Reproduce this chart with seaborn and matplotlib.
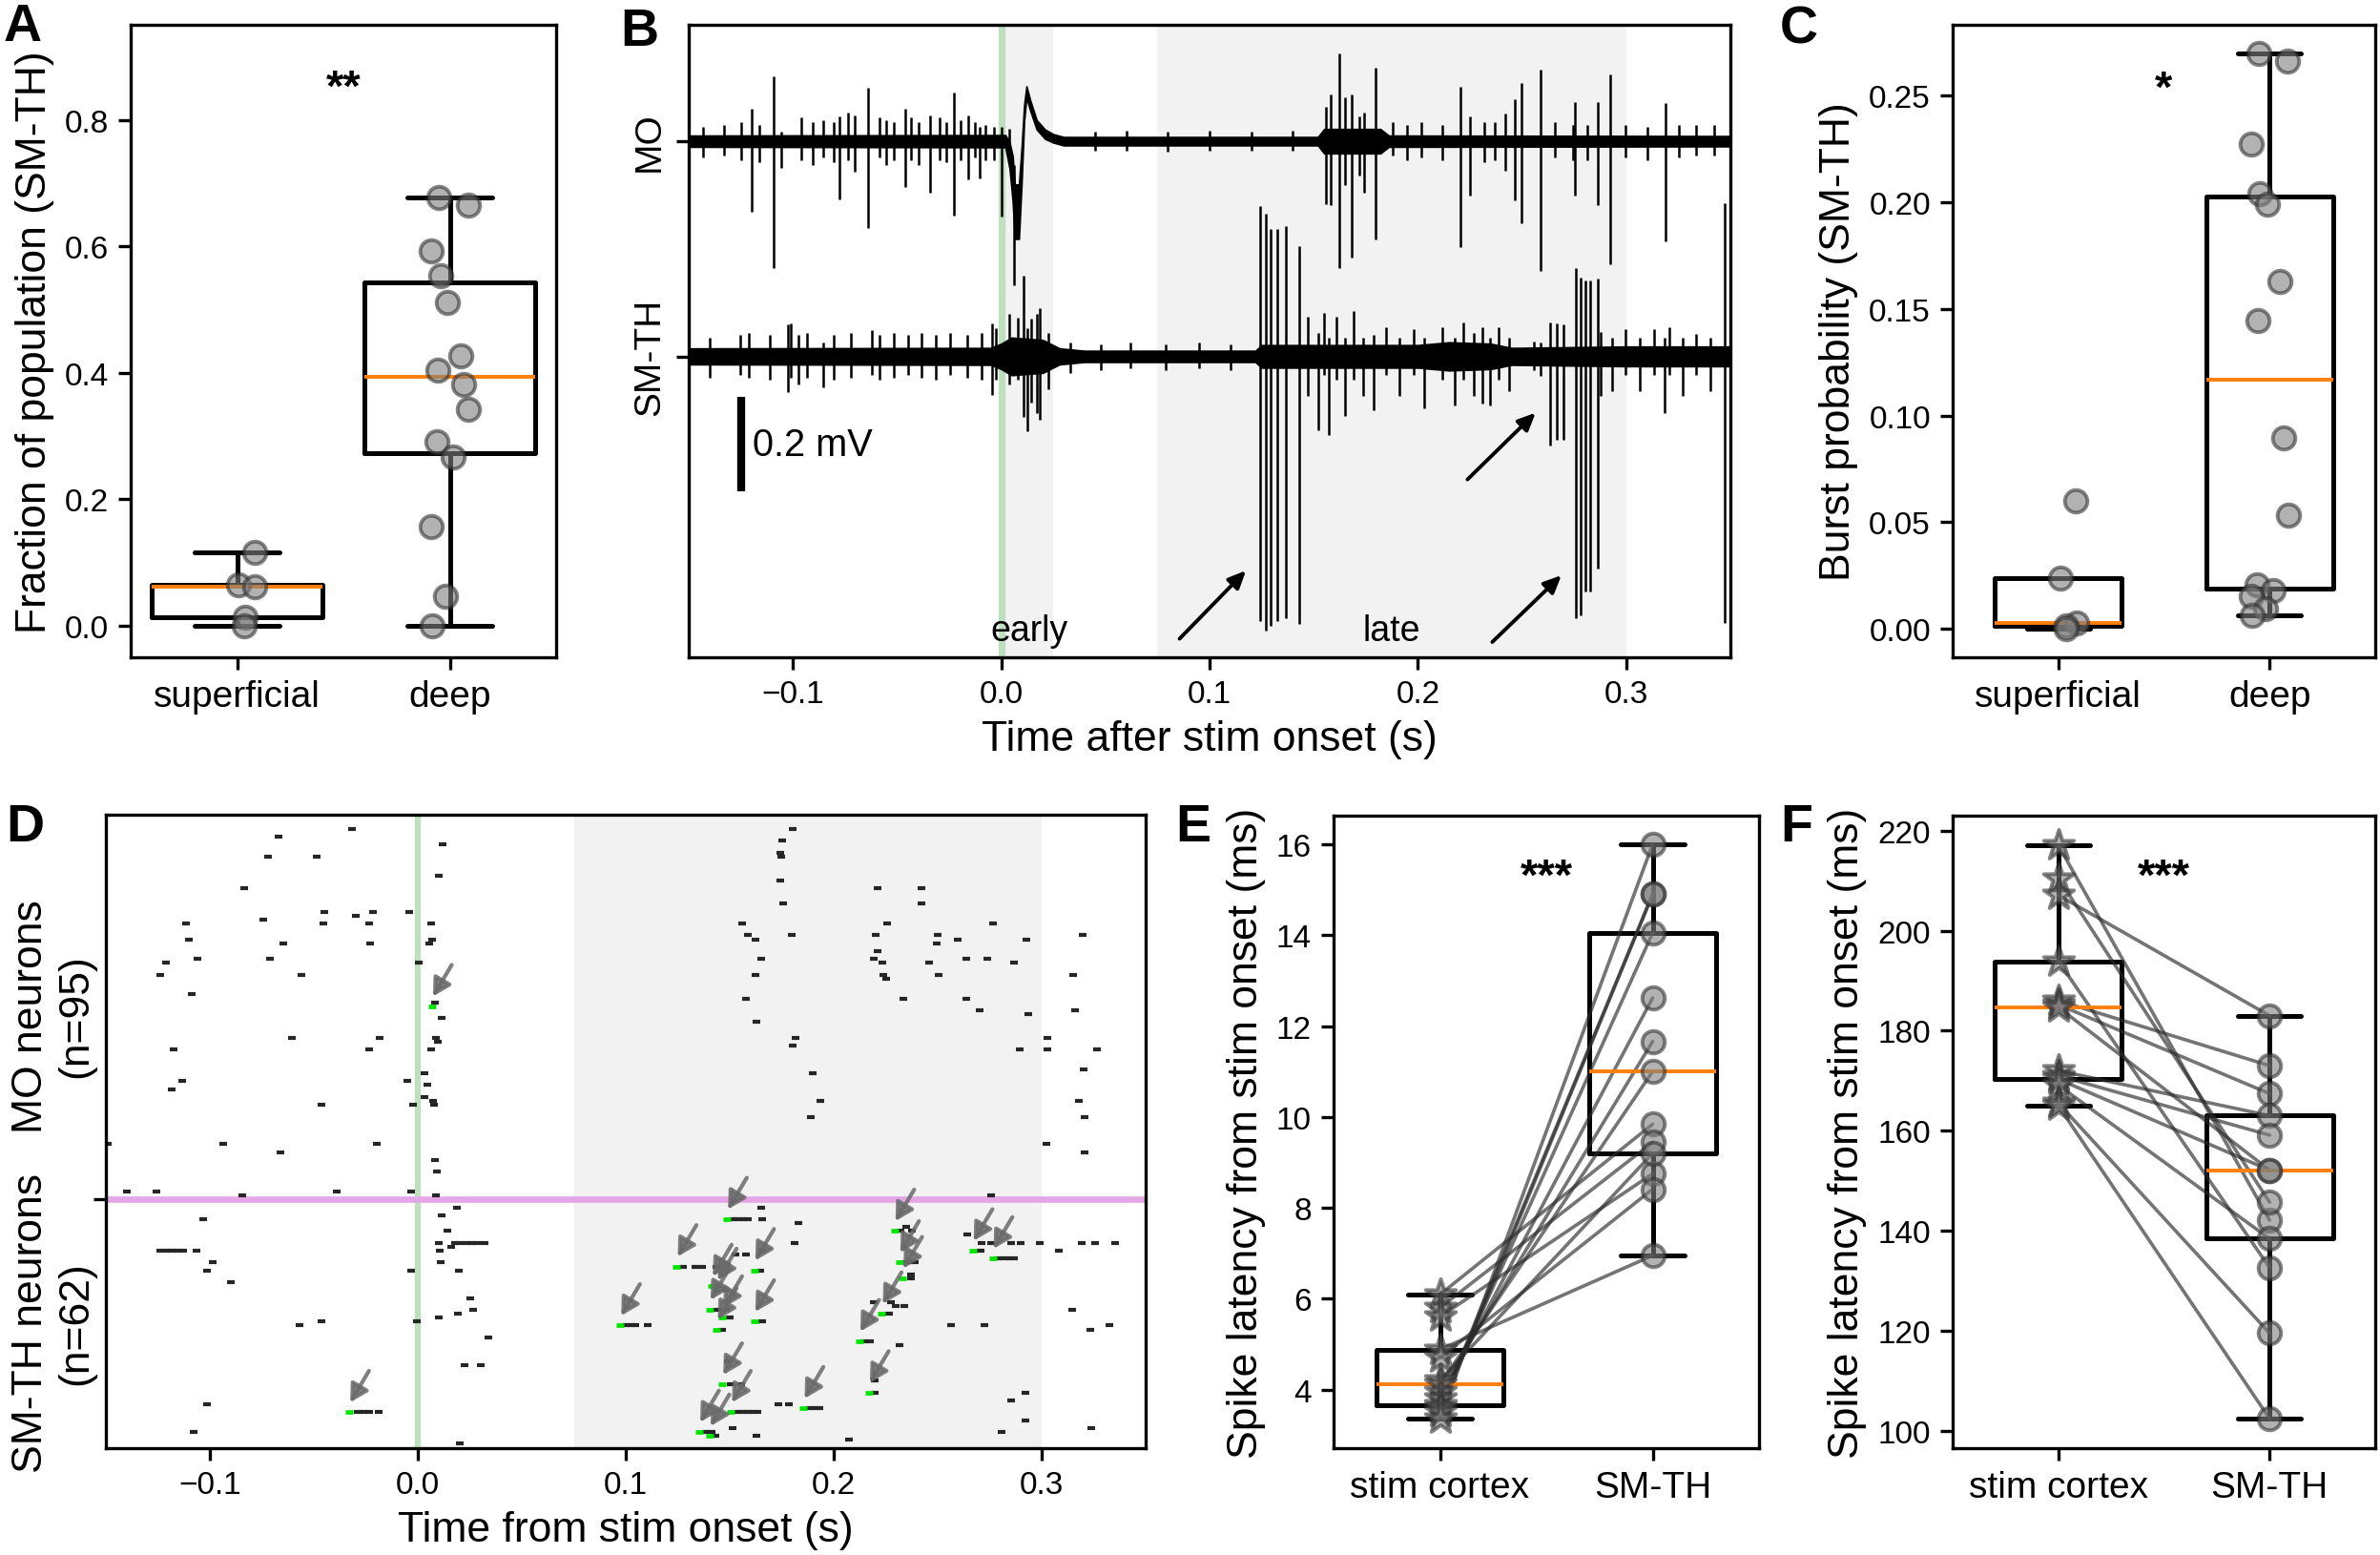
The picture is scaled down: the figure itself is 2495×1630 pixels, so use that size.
import numpy as np
import pandas as pd
import matplotlib
matplotlib.use("Agg")
import matplotlib.pyplot as plt
import seaborn as sns

# ---------------- data ----------------
# A: fraction of population that is SM-TH projecting
a_cats = ["superficial", "deep"]
a_sup = [0.116, 0.064, 0.062, 0.013, 0.0]
a_deep = [0.677, 0.665, 0.593, 0.554, 0.511, 0.427, 0.404, 0.382,
          0.342, 0.291, 0.267, 0.156, 0.047, 0.0]

# C: burst probability
c_sup = [0.060, 0.024, 0.003, 0.0015, 0.0]
c_deep = [0.2695, 0.2662, 0.2273, 0.2039, 0.1990, 0.1628, 0.1446,
          0.0894, 0.0532, 0.0205, 0.0182, 0.0153, 0.0093, 0.0064]

# E: early spike latency (ms), paired by neuron pair
e_cats = ["stim cortex", "SM-TH"]
e_ctx = [6.09, 5.8, 5.6, 4.88, 4.7, 4.2, 4.11, 3.95, 3.8, 3.66, 3.6, 3.5, 3.36]
e_th = [9.84, 9.44, 8.75, 6.95, 8.41, 9.2, 11.0, 11.66, 12.62, 14.05, 14.9, 14.9, 16.0]

# F: late spike latency (ms), paired
f_ctx = [217.1, 210.5, 207.1, 193.9, 186.0, 185.2, 184.7, 172.0, 171.0,
         170.3, 169.1, 165.5, 165.0]
f_th = [142.1, 145.7, 183.0, 132.6, 173.0, 167.4, 152.1, 163.0, 159.1,
        152.1, 138.4, 119.5, 102.4]

# B: example traces (mV). baseline offsets of the two channels
b_base = {"MO": 0.0, "SM-TH": -0.458}
# noise envelope: (time s, baseline shift mV, half width mV)
mo_env = [(-0.15, 0, 0.012), (-0.005, 0, 0.013), (0.002, 0, 0.013), (0.004, -0.03, 0.028),
          (0.0055, -0.08, 0.048), (0.0065, -0.15, 0.058), (0.0085, -0.15, 0.058),
          (0.0098, -0.05, 0.038), (0.011, 0.06, 0.017), (0.0121, 0.105, 0.012),
          (0.014, 0.075, 0.011), (0.017, 0.035, 0.010), (0.021, 0.015, 0.010),
          (0.025, 0.006, 0.009), (0.03, 0, 0.009), (0.152, 0, 0.009), (0.155, 0, 0.026),
          (0.182, 0, 0.026), (0.186, 0, 0.012), (0.35, 0, 0.011)]
th_env = [(-0.15, 0, 0.017), (-0.005, 0, 0.018), (0.0, 0, 0.027), (0.005, 0, 0.04),
          (0.02, 0, 0.035), (0.028, 0, 0.017), (0.04, 0, 0.012), (0.122, 0, 0.012),
          (0.125, 0, 0.024), (0.2, 0, 0.024), (0.215, 0, 0.03), (0.235, 0, 0.027),
          (0.245, 0, 0.018), (0.30, 0, 0.021), (0.35, 0, 0.021)]
# spikes: (time s, peak above baseline, trough below baseline)
mo_spikes = [(-0.1200, 0.070, -0.150), (-0.1093, 0.138, -0.271), (-0.1056, 0.02, -0.056),
             (-0.0776, 0.053, -0.123), (-0.0703, 0.055, -0.066), (-0.0639, 0.114, -0.184),
             (-0.0461, 0.070, -0.098), (-0.0342, 0.055, -0.110), (-0.0229, 0.104, -0.158),
             (-0.0158, 0.055, -0.082), (-0.0103, 0.03, -0.079), (0.0000, 0.03, -0.160),
             (0.0037, 0.026, -0.03), (0.0063, -0.05, -0.307),
             (-0.1432, 0.03, -0.035), (-0.1331, 0.035, -0.03), (-0.1246, 0.04, -0.04),
             (-0.1161, 0.035, -0.045), (-0.0958, 0.05, -0.04), (-0.0907, 0.04, -0.05),
             (-0.0856, 0.045, -0.035), (-0.0805, 0.04, -0.045), (-0.0737, 0.06, -0.04),
             (-0.0585, 0.05, -0.035), (-0.0551, 0.045, -0.05), (-0.0517, 0.04, -0.04),
             (-0.0432, 0.05, -0.04), (-0.0398, 0.04, -0.05), (-0.0297, 0.05, -0.04),
             (-0.0263, 0.04, -0.045), (-0.0195, 0.045, -0.04), (-0.0127, 0.04, -0.035),
             (-0.0076, 0.035, -0.04), (-0.0034, 0.03, -0.04),
             (0.1557, 0.073, -0.134), (0.1582, 0.100, -0.136), (0.1621, 0.187, -0.270),
             (0.1650, 0.094, -0.094), (0.1684, 0.100, -0.247), (0.1718, 0.052, -0.073),
             (0.1743, 0.06, -0.110), (0.1797, 0.157, -0.210), (0.2206, 0.115, -0.226),
             (0.2252, 0.052, -0.115), (0.2418, 0.058, -0.063), (0.2464, 0.089, -0.126),
             (0.2498, 0.124, -0.175), (0.2591, 0.152, -0.276), (0.2752, 0.084, -0.115),
             (0.2862, 0.084, -0.136), (0.2925, 0.142, -0.262), (0.3189, 0.082, -0.213),
             (0.1879, 0.04, -0.03), (0.1947, 0.035, -0.04), (0.2015, 0.04, -0.035),
             (0.2116, 0.035, -0.04), (0.2320, 0.04, -0.045), (0.2371, 0.04, -0.04),
             (0.2659, 0.04, -0.035), (0.2744, 0.035, -0.04), (0.2811, 0.035, -0.04),
             (0.2998, 0.035, -0.035), (0.3100, 0.03, -0.04), (0.3252, 0.035, -0.035),
             (0.3337, 0.035, -0.03), (0.3421, 0.035, -0.03),
             (0.0450, 0.02, -0.02), (0.0600, 0.022, -0.02), (0.0800, 0.02, -0.022),
             (0.1000, 0.022, -0.02), (0.1200, 0.02, -0.02), (0.1400, 0.022, -0.02)]
th_spikes = [(-0.1025, 0.069, -0.077), (-0.0853, 0.03, -0.066), (-0.0042, 0.071, -0.082),
             (0.0081, 0.083, -0.05), (0.0105, 0.171, -0.128), (0.0144, 0.081, -0.098),
             (0.0186, 0.102, -0.135),
             (0.1243, 0.320, -0.563), (0.1269, 0.304, -0.584), (0.1294, 0.271, -0.574),
             (0.1325, 0.271, -0.563), (0.1365, 0.278, -0.558), (0.1429, 0.234, -0.569),
             (0.2633, 0.073, -0.189), (0.2667, 0.07, -0.178), (0.2701, 0.068, -0.178),
             (0.2760, 0.187, -0.558), (0.2780, 0.168, -0.552), (0.2802, 0.162, -0.500),
             (0.2828, 0.162, -0.500), (0.2862, 0.166, -0.452), (0.3472, 0.325, -0.567),
             (0.1473, 0.084, -0.084), (0.1523, 0.05, -0.157), (0.1549, 0.092, -0.04),
             (0.1574, 0.04, -0.168), (0.1608, 0.084, -0.05), (0.1650, 0.04, -0.126),
             (0.1693, 0.097, -0.05), (0.1735, 0.04, -0.084), (0.1786, 0.045, -0.115),
             (0.1845, 0.063, -0.04), (0.1913, 0.04, -0.084), (0.1981, 0.058, -0.04),
             (0.2032, 0.04, -0.110), (0.2116, 0.063, -0.05), (0.2175, 0.04, -0.105),
             (0.2218, 0.073, -0.05), (0.2269, 0.05, -0.084), (0.2311, 0.063, -0.10),
             (0.2345, 0.04, -0.105), (0.2388, 0.063, -0.05), (0.2438, 0.04, -0.073),
             (0.2557, 0.031, -0.03), (0.2591, 0.03, -0.042), (0.2879, 0.052, -0.084),
             (0.2930, 0.04, -0.073), (0.2998, 0.058, -0.04), (0.3065, 0.04, -0.073),
             (0.3133, 0.058, -0.04), (0.3184, 0.04, -0.121), (0.3209, 0.063, -0.04),
             (0.3269, 0.04, -0.084), (0.3337, 0.047, -0.04), (0.3404, 0.04, -0.073),
             (-0.1398, 0.04, -0.045), (-0.1254, 0.045, -0.04), (-0.1212, 0.05, -0.045),
             (-0.1110, 0.045, -0.05), (-0.1012, 0.07, -0.045), (-0.0975, 0.045, -0.06),
             (-0.0932, 0.05, -0.045), (-0.0805, 0.045, -0.05), (-0.0720, 0.05, -0.045),
             (-0.0619, 0.055, -0.04), (-0.0585, 0.045, -0.05), (-0.0517, 0.05, -0.045),
             (-0.0449, 0.045, -0.04), (-0.0381, 0.05, -0.045), (-0.0314, 0.045, -0.05),
             (-0.0246, 0.05, -0.04), (-0.0161, 0.045, -0.045), (-0.0093, 0.05, -0.05),
             (-0.0025, 0.06, -0.05), (0.0040, 0.09, -0.06), (0.0125, 0.06, -0.16),
             (0.0170, 0.09, -0.12), (0.0225, 0.05, -0.07),
             (0.0330, 0.03, -0.035), (0.0480, 0.025, -0.03), (0.0620, 0.03, -0.025),
             (0.0790, 0.025, -0.03), (0.0950, 0.03, -0.025), (0.1100, 0.025, -0.03)]
b_scalebar = (-0.125, -0.545, 0.2)          # time, top (mV), length (mV)
b_windows = [(0.0, 0.025, "early", 0.0135), (0.075, 0.30, "late", 0.1875)]
b_arrows = [((0.0856, -1.059), (0.1175, -0.914)),
            ((0.2238, -0.720), (0.2565, -0.578)),
            ((0.2357, -1.066), (0.2689, -0.924))]

# D: raster, (time s, neuron row); MO rows > 0, SM-TH rows < 0
d_mo = [(-0.0316, 94), (-0.0672, 92), (0.0119, 90), (-0.0721, 87), (-0.0485, 87), (0.0099, 82),
        (-0.0836, 79), (-0.0449, 73), (-0.0297, 72), (-0.0214, 73), (-0.0042, 73), (-0.0745, 71),
        (-0.1115, 70), (-0.0453, 70), (-0.0232, 70), (0.0062, 70), (-0.1100, 66), (-0.0648, 65),
        (-0.0228, 65), (0.0068, 66), (0.0055, 65), (-0.1060, 61), (-0.0710, 61), (-0.1210, 60),
        (0.0004, 60), (-0.1237, 57), (-0.0560, 57), (-0.1089, 52), (0.0082, 50), (0.0113, 46),
        (-0.0604, 41), (-0.0182, 41), (0.0086, 41), (0.0095, 40), (-0.1173, 38), (-0.0234, 38),
        (0.0062, 38), (-0.1131, 30), (-0.1182, 28), (-0.0051, 30), (0.0033, 32), (0.0044, 29),
        (0.0031, 26), (0.0073, 25), (-0.0024, 24), (0.0077, 24), (-0.0462, 24), (-0.1493, 14),
        (-0.0936, 14), (-0.0195, 14), (-0.0659, 12), (0.0082, 10), (0.0091, 7), (-0.1401, 2),
        (-0.1259, 2), (-0.0843, 1), (-0.0389, 2), (-0.0033, 2), (0.0086, 1),
        (0.1805, 94), (0.1751, 91), (0.1742, 88), (0.1747, 87), (0.1745, 81), (0.1755, 75),
        (0.2211, 79), (0.2422, 79), (0.2422, 75), (0.1560, 70), (0.2258, 70), (0.2767, 70),
        (0.1585, 67), (0.1624, 66), (0.1796, 67), (0.2202, 67), (0.2500, 67), (0.2496, 65),
        (0.2595, 66), (0.2927, 66), (0.3195, 67), (0.2211, 63), (0.1651, 61), (0.2191, 61),
        (0.2236, 60), (0.2460, 60), (0.2636, 61), (0.2740, 61), (0.2867, 60), (0.1624, 57),
        (0.2240, 57), (0.2251, 56), (0.2504, 57), (0.3151, 57), (0.1578, 51), (0.2336, 51),
        (0.2636, 51), (0.1627, 45), (0.2704, 48), (0.2936, 47), (0.3160, 48), (0.1815, 41),
        (0.1805, 39), (0.2895, 38), (0.3027, 41), (0.3027, 38), (0.3267, 38), (0.3204, 33),
        (0.1900, 32), (0.1936, 25), (0.1891, 21), (0.3178, 25), (0.3205, 21), (0.3022, 14),
        (0.3207, 12), (0.2755, 1)]
d_th = [(0.0190, -2), (-0.1033, -5), (0.0113, -4), (0.0141, -8), (-0.1237, -13), (-0.1210, -13),
        (-0.1182, -13), (-0.1155, -13), (-0.1128, -13), (-0.1064, -13), (0.0104, -13), (0.0159, -12),
        (0.0099, -11), (0.0177, -11), (0.0204, -11), (0.0232, -11), (0.0259, -11), (0.0286, -11),
        (0.0323, -11), (-0.0985, -16), (0.0109, -16), (-0.1013, -18), (-0.0033, -18), (0.0195, -18),
        (-0.0900, -21), (0.0250, -25), (0.0268, -28), (0.0192, -29), (0.0100, -30), (-0.0005, -31),
        (-0.0465, -31), (-0.0571, -32), (0.0341, -35), (0.0223, -42), (0.0305, -42), (-0.1013, -52),
        (-0.0288, -54), (-0.0261, -54), (-0.0234, -54), (-0.0188, -54), (-0.1078, -59), (0.0201, -62),
        (0.1518, -5), (0.1541, -5), (0.1564, -5), (0.1587, -5), (0.1656, -5), (0.1651, -2),
        (0.1832, -6), (0.1814, -11), (0.1276, -17), (0.1335, -17), (0.1366, -17), (0.1435, -17),
        (0.1529, -14), (0.1579, -14), (0.1656, -13), (0.1648, -18), (0.1441, -22), (0.1480, -23),
        (0.1434, -28), (0.1457, -28), (0.1480, -28), (0.1499, -30), (0.1464, -33), (0.1656, -31),
        (0.1492, -41), (0.1503, -47), (0.1556, -47), (0.1541, -54), (0.1564, -54), (0.1587, -54),
        (0.1610, -54), (0.1633, -54), (0.1733, -52), (0.1786, -52), (0.1886, -53), (0.1909, -53),
        (0.1932, -53), (0.1384, -59), (0.1412, -59), (0.1430, -60), (0.1512, -58), (0.1628, -60),
        (0.2074, -61), (0.2323, -8), (0.2349, -7), (0.2375, -8), (0.2346, -16), (0.2369, -16),
        (0.2392, -16), (0.2372, -20), (0.2372, -19), (0.2192, -26), (0.2274, -26), (0.2300, -27),
        (0.2338, -27), (0.2266, -29), (0.2149, -36), (0.2174, -36), (0.2318, -37), (0.2563, -32),
        (0.2197, -46), (0.2199, -49), (0.2640, -9),
        (0.1000, -32), (0.1027, -32), (0.1045, -32), (0.1105, -32), (0.2705, -13), (0.2709, -11),
        (0.2755, -11), (0.2855, -11), (0.2900, -11), (0.2991, -11), (0.3191, -11), (0.3255, -11),
        (0.3355, -11), (0.3082, -13), (0.2791, -15), (0.2818, -15), (0.2845, -15), (0.2867, -15),
        (0.2724, -32), (0.3145, -28), (0.3233, -33), (0.3324, -32), (0.2855, -51), (0.2922, -49),
        (0.2922, -56), (0.2809, -59), (0.3240, -58)]
# first spike of each burst (green, with arrow)
d_first = [(0.0068, 49), (-0.0330, -54), (0.1487, -5), (0.1245, -17), (0.1618, -18),
           (0.1414, -22), (0.1438, -23), (0.1403, -28), (0.1464, -30), (0.1438, -33),
           (0.1618, -31), (0.0973, -32), (0.1464, -47), (0.1506, -54), (0.1855, -53),
           (0.1353, -59), (0.1403, -60), (0.2292, -8), (0.2315, -16), (0.2330, -20),
           (0.2231, -29), (0.2123, -36), (0.2169, -49), (0.2668, -13), (0.2764, -15)]
d_groups = [("MO neurons\n(n=95)", 0.683), ("SM-TH neurons\n(n=62)", 0.199)]

# ---------------- style ----------------
sns.set_theme(style="ticks")
plt.rcParams["font.family"] = ["Liberation Sans", "DejaVu Sans"]
plt.rcParams.update({
    "axes.edgecolor": "black", "axes.linewidth": 1.2, "axes.labelcolor": "black",
    "text.color": "black", "xtick.color": "black", "ytick.color": "black",
    "xtick.major.width": 1.2, "ytick.major.width": 1.2,
    "xtick.major.size": 4.8, "ytick.major.size": 4.8,
    "xtick.labelsize": 12, "ytick.labelsize": 12, "axes.labelsize": 16,
    "axes.grid": False,
})

W, H = 2495, 1631
fig = plt.figure(figsize=(W / 200, H / 200), dpi=200)


def frac(x0, y0, x1, y1):
    return [x0 / W, 1 - y1 / H, (x1 - x0) / W, (y1 - y0) / H]


axA = fig.add_axes(frac(137, 27, 583, 690))
axB = fig.add_axes(frac(722, 27, 1814, 690))
axC = fig.add_axes(frac(2047, 27, 2490, 690))
axD = fig.add_axes(frac(111, 855, 1201, 1519))
axE = fig.add_axes(frac(1398, 856, 1844, 1519))
axF = fig.add_axes(frac(2047, 856, 2490, 1519))

BOX = dict(fill=False, color="black", linewidth=1.8, showfliers=False,
           medianprops={"color": "#ff7f0e", "linewidth": 1.4})
PTS = dict(color="gray", alpha=0.6, linewidth=1.4, edgecolor="#333333")


def box_with_points(ax, cats, groups, width, ylabel, ylim, yticks, fmt, stars, star_y):
    df = pd.DataFrame({"cat": np.repeat(cats, [len(g) for g in groups]),
                       "val": np.concatenate(groups)})
    sns.boxplot(data=df, x="cat", y="val", order=cats, width=width, ax=ax, **BOX)
    np.random.seed(4)
    sns.stripplot(data=df, x="cat", y="val", order=cats, jitter=0.09, size=8.5, ax=ax, **PTS)
    ax.set_xlim(-0.5, 1.5)
    ax.set_ylim(*ylim)
    ax.set_yticks(yticks, [fmt.format(v) for v in yticks])
    ax.set_xlabel("")
    ax.set_ylabel(ylabel)
    ax.tick_params(axis="x", labelsize=14)
    ax.text(0.5, star_y, stars, ha="center", va="center", fontsize=17, fontweight="bold")


def paired(ax, cats, ctx, th, ylim, yticks, star_y):
    df = pd.DataFrame({"cat": np.repeat(cats, [len(ctx), len(th)]),
                       "val": np.r_[ctx, th]})
    sns.boxplot(data=df, x="cat", y="val", order=cats, width=0.6, ax=ax, **BOX)
    sns.stripplot(data=df[df["cat"] == cats[0]], x="cat", y="val", order=cats,
                  jitter=False, marker="*", size=12, ax=ax, **PTS)
    sns.stripplot(data=df[df["cat"] == cats[1]], x="cat", y="val", order=cats,
                  jitter=False, marker="o", size=8.5, ax=ax, **PTS)
    n = len(ctx)
    pairs = pd.DataFrame({"pos": np.r_[np.zeros(n), np.ones(n)],
                          "val": np.r_[ctx, th],
                          "pair": np.r_[np.arange(n), np.arange(n)]})
    sns.lineplot(data=pairs, x="pos", y="val", units="pair", estimator=None,
                 color="#2a2a2a", alpha=0.65, lw=1.3, legend=False, ax=ax)
    ax.set_xlim(-0.5, 1.5)
    ax.set_xticks([0, 1], cats)
    ax.set_ylim(*ylim)
    ax.set_yticks(yticks)
    ax.set_xlabel("")
    ax.set_ylabel("Spike latency from stim onset (ms)")
    ax.tick_params(axis="x", labelsize=14)
    ax.text(0.5, star_y, "***", ha="center", va="center", fontsize=17, fontweight="bold")


# ---------------- A ----------------
box_with_points(axA, a_cats, [a_sup, a_deep], 0.8, "Fraction of population (SM-TH)",
                (-0.0504, 0.951), [0.0, 0.2, 0.4, 0.6, 0.8], "{:.1f}", "**", 0.85)

# ---------------- C ----------------
box_with_points(axC, a_cats, [c_sup, c_deep], 0.6, "Burst probability (SM-TH)",
                (-0.0133, 0.2831), [0.0, 0.05, 0.10, 0.15, 0.20, 0.25], "{:.2f}", "*", 0.253)

# ---------------- E / F ----------------
paired(axE, e_cats, e_ctx, e_th, (2.71, 16.63), [4, 6, 8, 10, 12, 14, 16], 15.28)
paired(axF, e_cats, f_ctx, f_th, (96.5, 223.0), [100, 120, 140, 160, 180, 200, 220], 210.7)

# ---------------- B ----------------
SHADE = "#f2f2f2"
STIM = "#bfe0bf"
for t0, t1, name, tx in b_windows:
    axB.axvspan(t0, t1, color=SHADE, lw=0, zorder=0)
    axB.text(tx, -1.061, name, ha="center", va="baseline", fontsize=13.5, zorder=5)
axB.axvline(0, color=STIM, lw=2.6, zorder=0.5)

for name, env, spikes in [("MO", mo_env, mo_spikes), ("SM-TH", th_env, th_spikes)]:
    base = b_base[name]
    et, em, ew = map(np.array, zip(*env))
    axB.fill_between(et, base + em - ew, base + em + ew, color="black", lw=0.6, zorder=2)
    st, su, sd = map(np.array, zip(*spikes))
    axB.vlines(st, base + sd, base + su, color="black", lw=0.9, zorder=2)

sb_t, sb_top, sb_len = b_scalebar
axB.vlines(sb_t, sb_top - sb_len, sb_top, color="black", lw=3)
axB.text(sb_t + 0.0055, sb_top - sb_len / 2, "0.2 mV", ha="left", va="center", fontsize=14.3)
for tail, head in b_arrows:
    axB.annotate("", xy=head, xytext=tail,
                 arrowprops=dict(arrowstyle="-|>,head_length=0.55,head_width=0.25",
                                 color="black", lw=1.4, shrinkA=0, shrinkB=0,
                                 mutation_scale=10))
axB.set_xlim(-0.15, 0.35)
axB.set_ylim(-1.0985, 0.2477)
axB.set_xticks([-0.1, 0.0, 0.1, 0.2, 0.3])
axB.set_yticks([b_base["MO"], b_base["SM-TH"]], ["MO", "SM-TH"],
               rotation=90, va="center", fontsize=14)
axB.set_xlabel("Time after stim onset (s)")

# ---------------- D ----------------
axD.axvspan(0.075, 0.30, color=SHADE, lw=0, zorder=0)
axD.axvline(0, color=STIM, lw=2.3, zorder=0.5)
axD.axhline(0, color="#e4a6e6", lw=2.4, zorder=0.6)
for spikes in (d_mo, d_th):
    t, r = zip(*spikes)
    axD.plot(t, r, ls="none", marker="_", ms=2.7, mew=1.5, color="#262626", zorder=2)
gt, gr = zip(*d_first)
axD.plot(gt, gr, ls="none", marker="_", ms=3.0, mew=1.7, color="#00e600", zorder=3)
for t, r in d_first:
    axD.annotate("", xy=(t + 0.0005, r + 2.5), xytext=(t + 0.0095, r + 10.5),
                 arrowprops=dict(arrowstyle="-|>,head_length=0.5,head_width=0.28",
                                 color="#6a6a6a", alpha=0.85, lw=1.5, shrinkA=0,
                                 shrinkB=0, mutation_scale=11), zorder=4)
axD.set_xlim(-0.15, 0.35)
axD.set_ylim(-63.1, 97.6)
axD.set_xticks([-0.1, 0.0, 0.1, 0.2, 0.3])
axD.set_yticks([0], [""])
axD.set_xlabel("Time from stim onset (s)")
for label, yy in d_groups:
    axD.text(-0.050, yy, label, transform=axD.transAxes, rotation=90,
             ha="center", va="center", multialignment="center", fontsize=16)

# ---------------- panel letters ----------------
for letter, x, y in [("A", 4, 3), ("B", 650, 8), ("C", 1866, 6),
                     ("D", 6, 842), ("E", 1232, 842), ("F", 1866, 842)]:
    fig.text(x / W, 1 - y / H, letter, fontsize=20, fontweight="bold",
             ha="left", va="top")

fig.savefig("out.png", dpi=200)
